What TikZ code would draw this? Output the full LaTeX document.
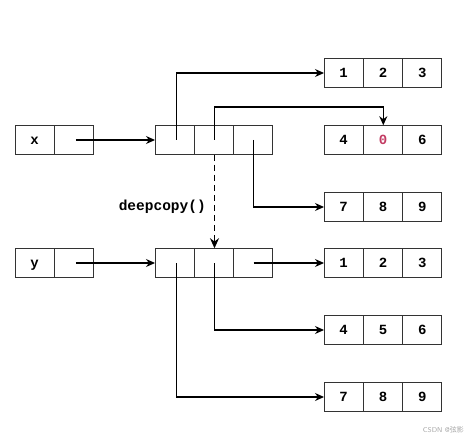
\documentclass[tikz,border=0pt]{standalone}
\usepackage{fontspec}
\setmonofont{Liberation Mono}
\newfontfamily\cjkfont{Noto Sans CJK SC}
\usetikzlibrary{arrows.meta}
\definecolor{zeroc}{HTML}{C23A62}
\begin{document}
\begin{tikzpicture}[x=1pt,y=-1pt,
  cellbox/.style={draw=black!80,line width=1pt,minimum width=39.3pt,minimum height=29.5pt,inner sep=0pt,outer sep=0pt,text height=9pt,text depth=0pt,font=\ttfamily\bfseries\fontsize{14}{14}\selectfont,anchor=north west},
  link/.style={line width=1.25pt,-{Stealth[length=9pt,width=8pt]}}]
\useasboundingbox (0,0) rectangle (474,441);
% x box
\node[cellbox] (x0) at (15,125.25) {x};
\node[cellbox] (x1) at (54.3,125.25) {};
% middle top
\node[cellbox] (a0) at (155,125.25) {};
\node[cellbox] (a1) at (194.3,125.25) {};
\node[cellbox] (a2) at (233.6,125.25) {};
% right top arrays
\node[cellbox] (p1) at (324,58.25) {1};
\node[cellbox] (p2) at (363.3,58.25) {2};
\node[cellbox] (p3) at (402.6,58.25) {3};
\node[cellbox] (q1) at (324,125.25) {4};
\node[cellbox] (q2) at (363.3,125.25) {\textcolor{zeroc}{0}};
\node[cellbox] (q3) at (402.6,125.25) {6};
\node[cellbox] (r1) at (324,192.25) {7};
\node[cellbox] (r2) at (363.3,192.25) {8};
\node[cellbox] (r3) at (402.6,192.25) {9};
% y box
\node[cellbox] (y0) at (15,248.25) {y};
\node[cellbox] (y1) at (54.3,248.25) {};
% middle bottom
\node[cellbox] (b0) at (155,248.25) {};
\node[cellbox] (b1) at (194.3,248.25) {};
\node[cellbox] (b2) at (233.6,248.25) {};
% right bottom arrays
\node[cellbox] (s1) at (324,248.25) {1};
\node[cellbox] (s2) at (363.3,248.25) {2};
\node[cellbox] (s3) at (402.6,248.25) {3};
\node[cellbox] (t1) at (324,315.25) {4};
\node[cellbox] (t2) at (363.3,315.25) {5};
\node[cellbox] (t3) at (402.6,315.25) {6};
\node[cellbox] (u1) at (324,382.25) {7};
\node[cellbox] (u2) at (363.3,382.25) {8};
\node[cellbox] (u3) at (402.6,382.25) {9};
% connectors top
\draw[link] ([xshift=2pt]x1.center) -- (a0.west);
\draw[link] ([xshift=1.85pt]a0.center) |- (p1.west);
\draw[link] ([xshift=0.55pt]a1.center) -- ++(0,-33) -| ([xshift=0.35pt]q2.north);
\draw[link] ([xshift=0.25pt]a2.center) |- (r1.west);
% deepcopy
\draw[line width=1.6pt,dash pattern=on 6pt off 4pt] ([xshift=0.55pt]a1.south) -- ([xshift=0.55pt,yshift=8pt]b1.north);
\draw[-{Stealth[length=10pt,width=9pt]},line width=1.6pt] ([xshift=0.55pt,yshift=10pt]b1.north) -- ([xshift=0.55pt]b1.north);
\node[font=\ttfamily\bfseries\fontsize{14.5}{14.5}\selectfont,anchor=east,inner sep=0pt] (dc) at (206,207) {deepcopy()};
% connectors bottom
\draw[link] ([xshift=2pt]y1.center) -- (b0.west);
\draw[link] ([xshift=0.25pt]b2.center) -- (s1.west);
\draw[link] ([xshift=0.55pt]b1.center) |- (t1.west);
\draw[link] ([xshift=1.85pt]b0.center) |- (u1.west);
% watermark
\node[anchor=east,text=black!35,font=\sffamily\fontsize{7}{7}\selectfont,inner sep=0pt] (wm) at (464,430) {CSDN @{\cjkfont 弦影}};
\end{tikzpicture}
\end{document}
